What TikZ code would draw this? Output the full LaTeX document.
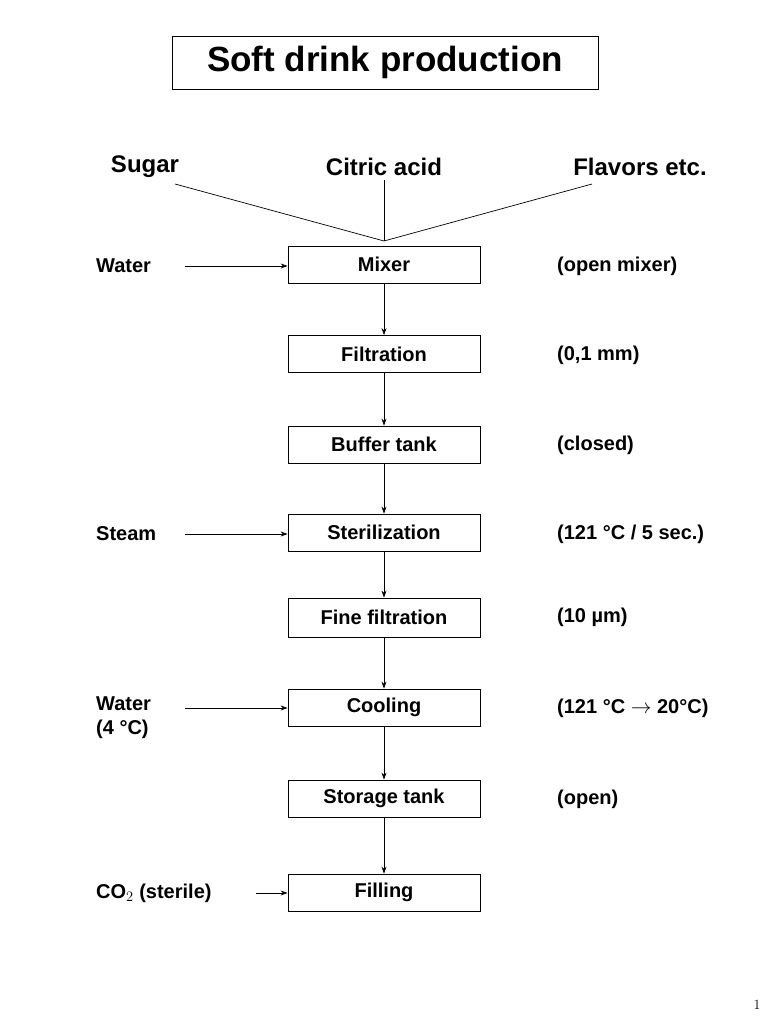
\documentclass[tikz,border=0pt]{standalone}
\usepackage{fontspec}
\setmainfont{Liberation Sans}
\usetikzlibrary{arrows.meta}
\begin{document}
\begin{tikzpicture}[x=1pt,y=-1pt,
  proc/.style={draw,line width=0.8pt,minimum width=192pt,minimum height=37pt,inner sep=0pt,font=\fontsize{20}{24}\selectfont\bfseries},
  lbl/.style={anchor=west,inner sep=0pt,font=\fontsize{20}{24}\selectfont\bfseries},
  top/.style={inner sep=0pt,font=\fontsize{24}{28}\selectfont\bfseries},
  arr/.style={-{Stealth[length=7pt,width=5pt]},line width=0.7pt}]
\useasboundingbox (0,0) rectangle (768,1024);
\node[draw,line width=0.8pt,minimum width=426pt,minimum height=53pt,font=\fontsize{35}{40}\selectfont\bfseries] (title) at (385,62.5) {Soft drink production};
\node[top] (sugar) at (145,167) {Sugar};
\node[top] (citric) at (384,167) {Citric acid};
\node[top] (flav) at (640,167) {Flavors etc.};
\coordinate (join) at (384,241);
\coordinate (s1) at (175,184);
\coordinate (f1) at (592,184);
\draw[line width=0.7pt] (s1) -- (join) -- (f1);
\draw[line width=0.7pt] (citric.south) ++(0,4) coordinate (c1) -- (join);
\node[proc] (mixer) at (384,264.5) {Mixer};
\node[proc] (filt) at (384,354) {Filtration};
\node[proc] (buf) at (384,444.5) {Buffer tank};
\node[proc] (ster) at (384,532.5) {Sterilization};
\node[proc,minimum height=39pt] (fine) at (384,617.5) {Fine filtration};
\node[proc] (cool) at (384,707.5) {Cooling};
\node[proc] (stor) at (384,798.5) {Storage tank};
\node[proc] (fill) at (384,892.5) {Filling};
\foreach \a/\b in {mixer/filt,filt/buf,buf/ster,ster/fine,fine/cool,cool/stor,stor/fill}
  \draw[arr] (\a.south) -- (\b.north);
\node[lbl] (w1) at (96,266) {Water};
\node[lbl] (st) at (96,534) {Steam};
\node[lbl,align=left,anchor=north west] (w2) at (96,697) {Water\\(4 °C)};
\node[lbl] (co2) at (96,893) {CO$_2$ (sterile)};
\coordinate (a1) at (185,266);
\coordinate (a2) at (185,534);
\coordinate (a3) at (185,708);
\coordinate (a4) at (256,893);
\draw[arr] (a1) -- (mixer.west|-a1);
\draw[arr] (a2) -- (ster.west|-a2);
\draw[arr] (a3) -- (cool.west|-a3);
\draw[arr] (a4) -- (fill.west|-a4);
\node[lbl] (r1) at (557,266) {(open mixer)};
\node[lbl] (r2) at (557,355) {(0,1 mm)};
\node[lbl] (r3) at (557,445) {(closed)};
\node[lbl] (r4) at (557,534) {(121 °C / 5 sec.)};
\node[lbl] (r5) at (557,617) {(10 µm)};
\node[lbl] (r6) at (557,708) {(121 °C $\rightarrow$ 20°C)};
\node[lbl] (r7) at (557,799) {(open)};
\node[inner sep=0pt,font=\fontfamily{lmr}\fontsize{14}{16}\selectfont] (pg) at (757,1005) {1};
\end{tikzpicture}
\end{document}
